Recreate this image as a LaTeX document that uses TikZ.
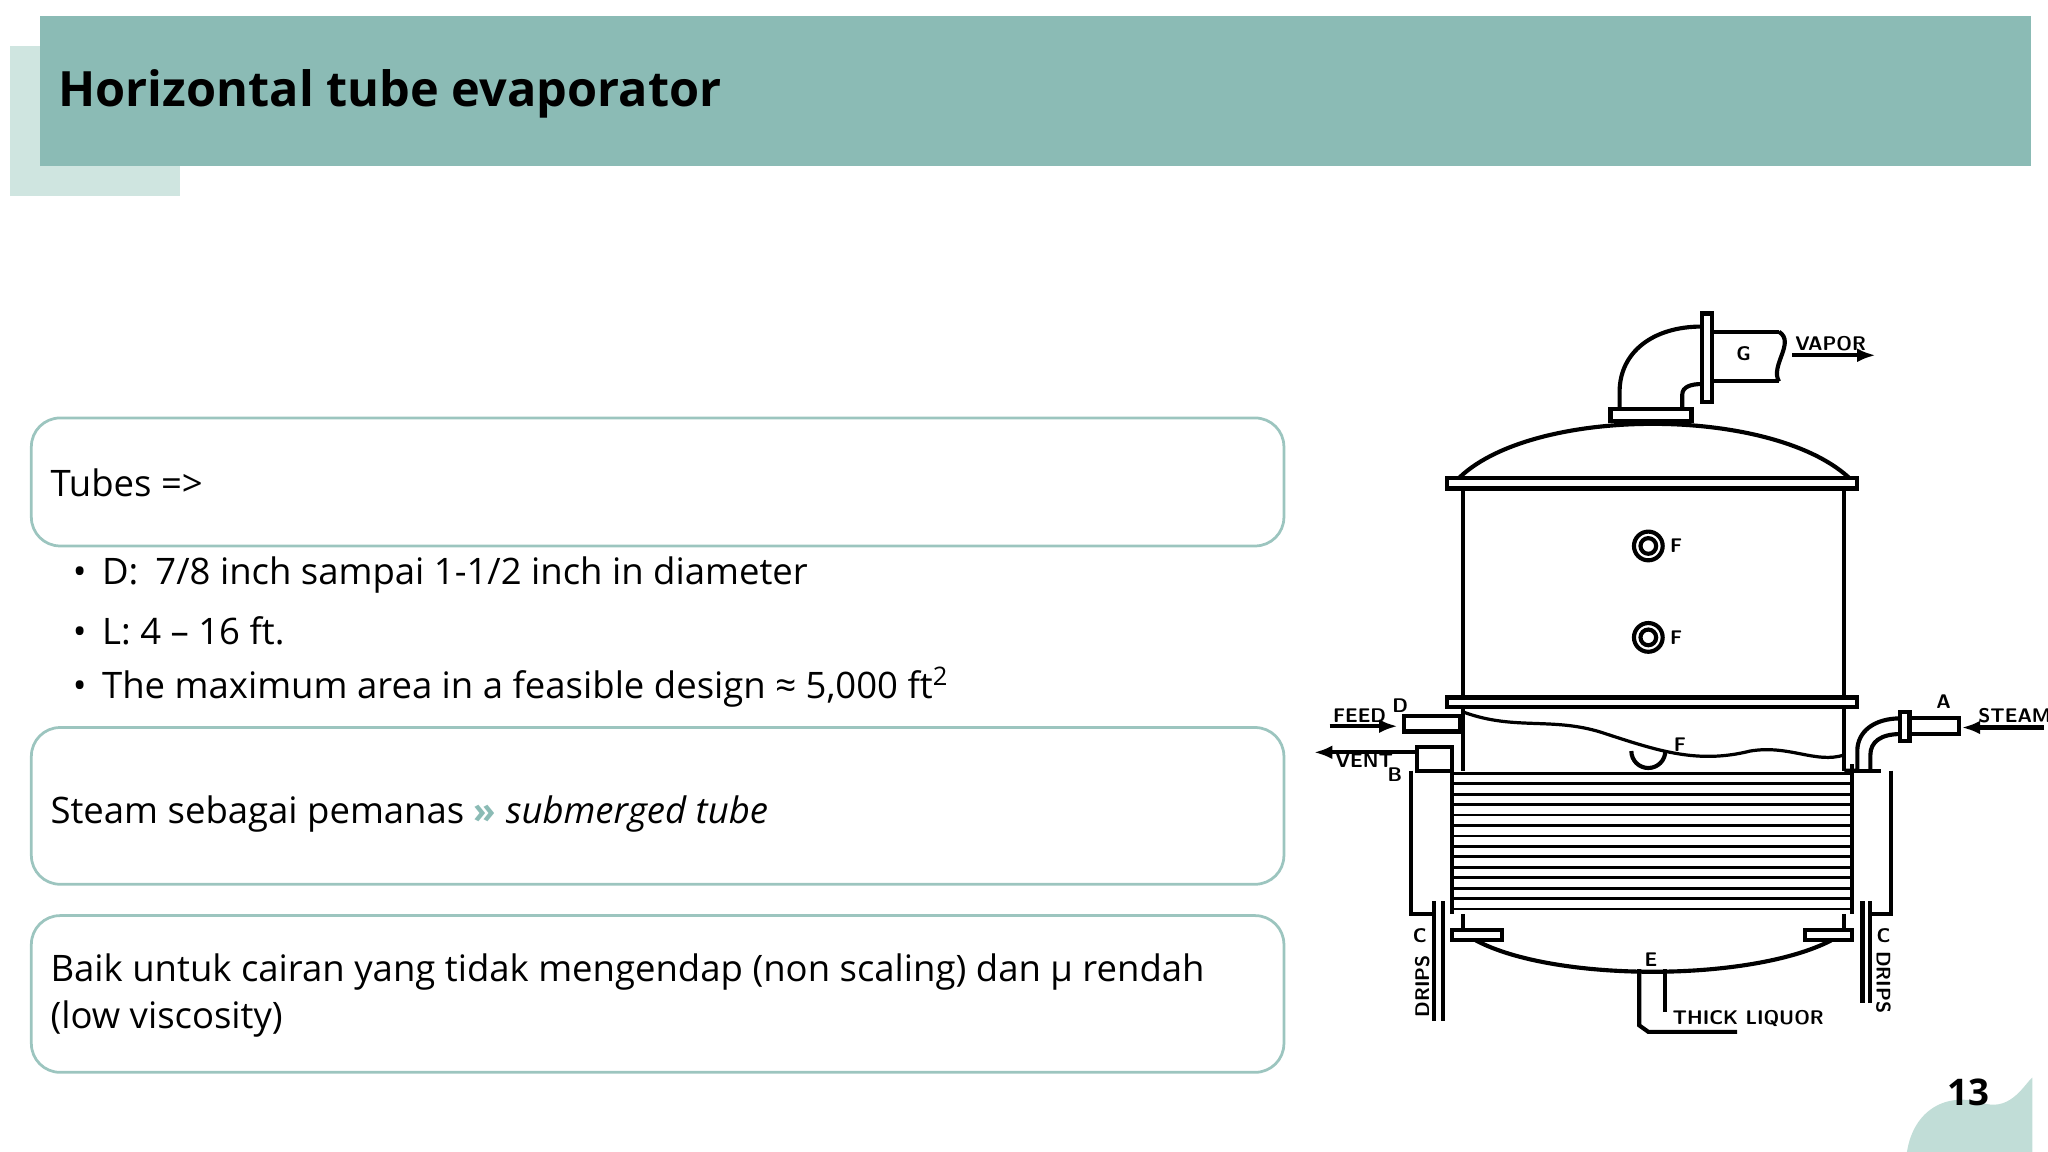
\documentclass[tikz,border=0pt]{standalone}
\usepackage{fontspec}
\setmainfont{Open Sans}
\usetikzlibrary{arrows.meta,decorations.pathmorphing}
\definecolor{hdr}{HTML}{8BBBB5}
\definecolor{hdrl}{HTML}{CFE5E0}
\definecolor{bx}{HTML}{9CC5BF}
\tikzset{
 tbox/.style={draw=bx,line width=0.6pt,rounded corners=2.2mm},
 body/.style={anchor=west,font=\fontsize{7.95pt}{10.2pt}\selectfont,inner sep=0},
 lab/.style={font=\sffamily\bfseries\fontsize{4.3pt}{5pt}\selectfont,inner sep=0.3pt},
 ln/.style={line width=0.9pt},
}
\begin{document}
\begin{tikzpicture}[x=0.1mm,y=-0.1mm]
\useasboundingbox (0,0) rectangle (1568,882);
\fill[hdrl] (8,35) rectangle (138,150);
\fill[hdr] (31,12) rectangle (1555,127);
\node[anchor=west,font=\bfseries\fontsize{10.6pt}{13pt}\selectfont,inner sep=0] (title) at (44,72) {Horizontal tube evaporator};
% boxes
\draw[tbox] (24,320) rectangle (983,418);
\node[body] (t1) at (38,370) {Tubes =>};
\node[body] (b1) at (55,440) {•\hspace{1.2mm}D:\hspace{1.3mm}7/8 inch sampai 1-1/2 inch in diameter};
\node[body] (b2) at (55,483) {•\hspace{1.2mm}L: 4 – 16 ft.};
\node[body] (b3) at (55,526) {•\hspace{1.2mm}The maximum area in a feasible design ≈ 5,000 ft\textsuperscript{2}};
\draw[tbox] (24,557) rectangle (983,677);
\node[body] (t2) at (38,623) {Steam sebagai pemanas {\color{hdr}\bfseries »} \textit{submerged tube}};
\draw[tbox] (24,701) rectangle (983,821);
\node[body,align=left] (t3) at (38,762) {Baik untuk cairan yang tidak mengendap (non scaling) dan μ rendah\\(low viscosity)};
% page number and decoration
\fill[hdrl!80!hdr] (1460,882) .. controls (1465,850) and (1490,835) .. (1520,845) .. controls (1540,850) and (1550,830) .. (1556,825) -- (1556,882) -- cycle;
\node[font=\bfseries\fontsize{8pt}{9pt}\selectfont] (pg) at (1507,836) {13};
% ---- evaporator ----
\begin{scope}[ln]
% dome
\draw (1115,368) .. controls (1170,310) and (1360,310) .. (1418,368);
\draw[fill=white] (1233,313) rectangle (1295,322);
\draw[fill=white] (1108,366) rectangle (1422,374);
% upper shell
\draw (1120,374) -- (1120,534);
\draw (1412,374) -- (1412,534);
\draw[fill=white] (1108,534) rectangle (1422,541);
% top nozzle
\draw (1240,313) -- (1240,300) .. controls (1240,270) and (1265,250) .. (1303,250);
\draw (1288,313) -- (1288,302) .. controls (1288,296) and (1295,294) .. (1303,294);
\draw[fill=white] (1303,240) rectangle (1311,308);
\draw (1311,254) -- (1362,254);
\draw (1311,292) -- (1362,292);
\draw (1362,254) .. controls (1375,262) and (1355,280) .. (1362,292);
\node[lab] (G) at (1335,271) {G};
\node[lab,anchor=west] (vap) at (1372,263) {VAPOR};
\draw[-{Latex[length=4pt]}] (1372,272) -- (1436,272);
% F openings
\foreach \yy [count=\i] in {418,488}{
 \draw (1262,\yy) circle (11); \draw (1262,\yy) circle (6);
 \node[lab,anchor=west] (f\i) at (1276,\yy) {F};}
\draw (1249,575) arc (180:0:13);
\node[lab,anchor=west] (f3) at (1279,570) {F};
% lower shell
\draw (1120,541) -- (1120,590);
\draw (1412,541) -- (1412,590);
\draw[line width=0.7pt] (1120,545) .. controls (1160,560) and (1190,548) .. (1230,562) .. controls (1270,575) and (1300,585) .. (1340,575) .. controls (1370,570) and (1390,585) .. (1412,578);
% tube sheets
\draw (1112,585) -- (1112,700);
\draw (1418,585) -- (1418,700);
\foreach \yy in {592,600,...,696} \draw[line width=0.6pt] (1112,\yy) -- (1418,\yy);
\draw (1120,700) -- (1120,712);
\draw (1412,700) -- (1412,712);
% steam chests
\draw (1080,590) -- (1080,700) -- (1098,700);
\draw (1090,590) -- (1112,590);
\draw (1448,590) -- (1448,700) -- (1432,700);
\draw (1418,590) -- (1440,590);
\draw[fill=white] (1112,712) rectangle (1150,720);
\draw[fill=white] (1382,712) rectangle (1418,720);
% bottom dish
\draw (1130,720) .. controls (1190,752) and (1340,752) .. (1402,720);
\draw (1255,742) -- (1255,785) -- (1262,790) -- (1330,790);
\draw (1275,742) -- (1275,775);
\node[lab] (E) at (1264,735) {E};
\node[lab,anchor=west] (tl) at (1278,780) {THICK LIQUOR};
% drips
\draw (1098,690) -- (1098,782); \draw (1105,690) -- (1105,782);
\node[lab,rotate=90] (dl) at (1089,755) {DRIPS};
\node[lab] (cl) at (1087,716) {C};
\draw (1432,690) -- (1432,768); \draw (1426,690) -- (1426,768);
\node[lab,rotate=-90] (dr) at (1442,752) {DRIPS};
\node[lab] (cr) at (1442,716) {C};
% feed
\draw[fill=white] (1075,548) rectangle (1118,560);
\node[lab,anchor=west] (feed) at (1018,548) {FEED};
\node[lab] (D) at (1072,540) {D};
\draw[-{Latex[length=4pt]}] (1018,556) -- (1070,556);
\draw (1085,572) rectangle (1112,590);
\node[lab,anchor=west] (vent) at (1020,582) {VENT};
\node[lab] (B) at (1068,593) {B};
\draw[-{Latex[length=4pt]}] (1085,576) -- (1006,576);
% steam
\draw (1412,590) -- (1422,590) -- (1422,575) .. controls (1422,560) and (1435,550) .. (1455,550);
\draw (1432,590) -- (1432,578) .. controls (1432,568) and (1440,562) .. (1455,562);
\draw[fill=white] (1455,545) rectangle (1462,567);
\draw (1462,550) rectangle (1500,562);
\node[lab] (A) at (1488,537) {A};
\node[lab,anchor=west] (st) at (1512,548) {STEAM};
\draw[-{Latex[length=4pt]}] (1565,557) -- (1502,557);
\end{scope}
\end{tikzpicture}
\end{document}
